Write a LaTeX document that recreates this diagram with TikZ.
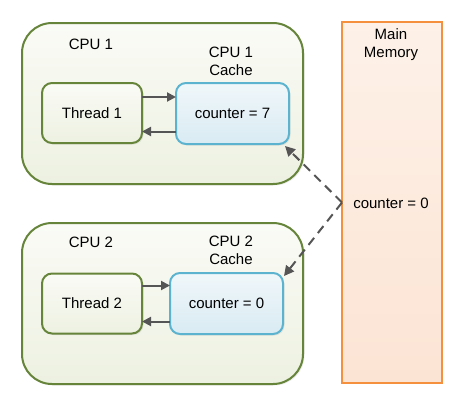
\documentclass[tikz,border=0pt]{standalone}
\usepackage{fontspec}
\setmainfont{Liberation Sans}
\usetikzlibrary{arrows.meta,shadows}
\definecolor{cpuborder}{HTML}{66843A}
\definecolor{cputop}{HTML}{FAFBF6}
\definecolor{cpubot}{HTML}{EDF1E1}
\definecolor{cacheborder}{HTML}{5BB3CF}
\definecolor{cachetop}{HTML}{F0F7FA}
\definecolor{cachebot}{HTML}{D9EBF3}
\definecolor{memborder}{HTML}{F5913E}
\definecolor{memtop}{HTML}{FDF1E8}
\definecolor{membot}{HTML}{FCE4D4}
\definecolor{arrowgrey}{HTML}{555555}
\tikzset{
  every node/.style={font=\fontsize{15}{18}\selectfont, inner sep=0pt, outer sep=0pt},
  cpubox/.style={draw=cpuborder, line width=2pt, rounded corners=30pt, top color=cputop, bottom color=cpubot, minimum width=281pt, minimum height=161pt, drop shadow={shadow xshift=1.5pt, shadow yshift=-1.5pt, opacity=0.15}},
  threadbox/.style={draw=cpuborder, line width=2pt, rounded corners=10pt, top color=cputop, bottom color=cpubot, minimum width=100pt, minimum height=60pt, drop shadow={shadow xshift=1.5pt, shadow yshift=-1.5pt, opacity=0.15}},
  cachebox/.style={draw=cacheborder, line width=2pt, rounded corners=10pt, top color=cachetop, bottom color=cachebot, minimum width=113pt, minimum height=61pt, drop shadow={shadow xshift=1.5pt, shadow yshift=-1.5pt, opacity=0.15}},
  membox/.style={draw=memborder, line width=2pt, top color=memtop, bottom color=membot, minimum width=100pt, minimum height=361pt},
  lbl/.style={align=center},
  flow/.style={draw=arrowgrey, line width=2pt, -{Triangle[length=9pt,width=9pt]}},
  sync/.style={draw=arrowgrey, line width=2pt, dash pattern=on 9pt off 6pt, -{Triangle[length=10pt,width=10pt]}}
}
\begin{document}
\begin{tikzpicture}[x=1pt,y=-1pt]
\useasboundingbox (0,0) rectangle (468,405);
% CPU 1
\node[cpubox] (cpu1) at (162.5,103.5) {};
\node[lbl] (cpu1lbl) at (91,44) {CPU 1};
\node[lbl] (cache1lbl) at (231,61.5) {CPU 1\\Cache};
\node[threadbox] (thread1) at (92,113) {Thread 1};
\node[cachebox] (cache1) at (232.5,113.5) {counter = 7};
% CPU 2
\node[cpubox] (cpu2) at (162.5,303.5) {};
\node[lbl] (cpu2lbl) at (91,242) {CPU 2};
\node[lbl] (cache2lbl) at (231,250.5) {CPU 2\\Cache};
\node[threadbox] (thread2) at (92,303.5) {Thread 2};
\node[cachebox] (cache2) at (226.5,303.5) {counter = 0};
% Main memory
\node[membox] (mem) at (392,202.5) {};
\node[lbl] (memlbl) at (391,45) {Main\\Memory};
\node (memval) at (391,203) {counter = 0};
% arrows
\draw[flow] ([yshift=16pt]thread1.east) -- ([yshift=16pt]thread1.east -| cache1.west);
\draw[flow] ([yshift=-18pt]cache1.west) -- ([yshift=-18pt]cache1.west -| thread1.east);
\draw[flow] ([yshift=18pt]thread2.east) -- ([yshift=18pt]thread2.east -| cache2.west);
\draw[flow] ([yshift=-18pt]cache2.west) -- ([yshift=-18pt]cache2.west -| thread2.east);
\coordinate (memport) at (mem.west);
\draw[sync] (memport) -- ([xshift=-4pt,yshift=-2pt]cache1.south east);
\draw[sync] (memport) -- ([xshift=1pt,yshift=-3pt]cache2.north east);
\end{tikzpicture}
\end{document}
